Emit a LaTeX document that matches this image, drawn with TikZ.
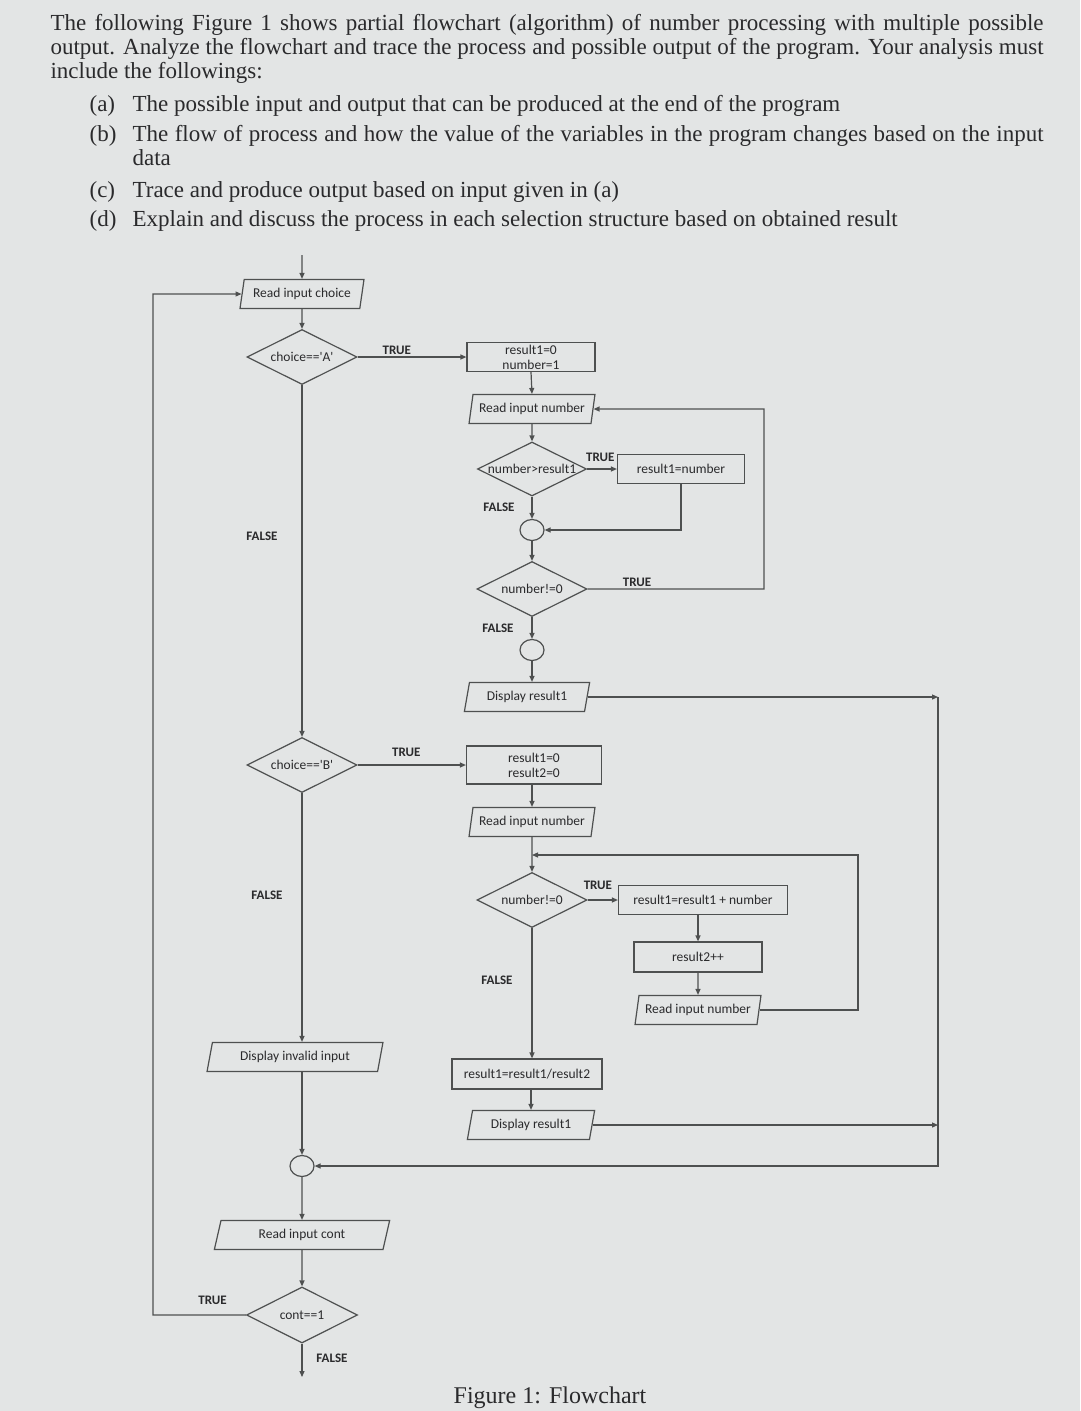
\documentclass[tikz,border=0pt]{standalone}
\usepackage{fontspec}
\setmainfont{Liberation Serif}
\newfontfamily\chartfont{Carlito}
\usetikzlibrary{arrows.meta,shapes.geometric}

\definecolor{paper}{HTML}{E3E5E5}
\definecolor{ink}{HTML}{4E5050}
\definecolor{textc}{HTML}{2A2A2C}

\newcommand{\headfont}{\fontsize{23}{26}\selectfont}
\newcommand{\condtext}[1]{\makebox[0pt]{#1}}

\begin{document}
\begin{tikzpicture}[
    x=1pt, y=-1pt,
    >={Triangle[length=6pt,width=5pt]},
    line width=1.2pt,
    draw=ink,
    text=textc,
    font=\chartfont\fontsize{13.5}{15}\selectfont,
    proc/.style={draw=ink, rectangle, minimum height=29pt, inner sep=1pt, align=center},
    io/.style={draw=ink, trapezium, trapezium left angle=75, trapezium right angle=105,
        trapezium stretches=true, minimum height=29pt, inner sep=1pt},
    decide/.style={draw=ink, diamond, aspect=2, minimum width=110pt, minimum height=55pt, inner sep=0pt},
    joint/.style={draw=ink, ellipse, minimum width=24pt, minimum height=21pt, inner sep=0pt},
    lbl/.style={font=\chartfont\bfseries\fontsize{13}{15}\selectfont},
    head/.style={anchor=base west, inner sep=0pt, font=\headfont}
]

    % Page
    \fill[paper] (0,0) rectangle (1080,1411);
    \useasboundingbox (0,0) rectangle (1080,1411);

    % Question text
    \node[head] (intro1) at (50,30) {\makebox[993pt][s]{The following Figure 1 shows partial flowchart (algorithm) of number processing with multiple possible}};
    \node[head] (intro2) at (50,54) {\makebox[993pt][s]{output. Analyze the flowchart and trace the process and possible output of the program. Your analysis must}};
    \node[head] (intro3) at (50,78) {include the followings:};
    \node[head] (tagA) at (89,111) {(a)};
    \node[head] (itemA) at (132,111) {The possible input and output that can be produced at the end of the program};
    \node[head] (tagB) at (89,141) {(b)};
    \node[head] (itemB) at (132,141) {\makebox[911pt][s]{The flow of process and how the value of the variables in the program changes based on the input}};
    \node[head] (itemB2) at (132,165) {data};
    \node[head] (tagC) at (89,197) {(c)};
    \node[head] (itemC) at (132,197) {Trace and produce output based on input given in (a)};
    \node[head] (tagD) at (89,226) {(d)};
    \node[head] (itemD) at (132,226) {Explain and discuss the process in each selection structure based on obtained result};

    % Main column
    \coordinate (start) at (302,255);
    \node[io, minimum width=124pt] (rdchoice) at (302,294) {Read input choice};
    \node[decide] (chkA) at (302,357) {\condtext{choice=='A'}};
    \node[decide] (chkB) at (302,765) {\condtext{choice=='B'}};
    \node[io, minimum width=176pt] (dispinv) at (295,1057) {Display invalid input};
    \node[joint] (joinM) at (302,1166) {};
    \node[io, minimum width=176pt] (rdcont) at (302,1235) {Read input cont};
    \node[decide, minimum width=111pt, minimum height=56pt] (chkcont) at (302,1315) {\condtext{cont==1}};
    \coordinate (stop) at (302,1377);

    % Choice A: largest number
    \node[proc, minimum width=128pt] (initA) at (531,357) {result1=0\\number=1};
    \node[io, minimum width=126pt] (rdnumA) at (532,409) {Read input number};
    \node[decide, minimum width=109pt, minimum height=54pt] (cmpA) at (532,469) {\condtext{number>result1}};
    \node[proc, minimum width=127pt] (setA) at (681,469) {result1=number};
    \node[joint] (joinA) at (532,530) {};
    \node[decide] (chkzA) at (532,589) {\condtext{number!=0}};
    \node[joint] (joinA2) at (532,650) {};
    \node[io, minimum width=126pt] (dispA) at (527,697) {Display result1};
    \coordinate (loopA) at (764,409);

    % Choice B: average
    \node[proc, minimum width=135pt, minimum height=38pt] (initB) at (534,765) {result1=0\\result2=0};
    \node[io, minimum width=126pt] (rdnumB) at (532,822) {Read input number};
    \node[decide] (chkzB) at (532,900) {\condtext{number!=0}};
    \node[proc, minimum width=169pt] (sumB) at (703,900) {result1=result1 + number};
    \node[proc, minimum width=128pt, minimum height=30pt] (incB) at (698,957) {result2++};
    \node[io, minimum width=126pt] (rdnumB2) at (698,1010) {Read input number};
    \node[proc, minimum width=150pt, minimum height=30pt] (avgB) at (527,1074) {result1=result1/result2};
    \node[io, minimum width=128pt] (dispB) at (531,1125) {Display result1};
    \coordinate (loopB) at (858,855);

    % Rails
    \coordinate (railT) at (938,697);
    \coordinate (railL) at (153,294);

    % Main flow
    \draw[->] (start) -- (rdchoice.north);
    \draw[->] (rdchoice.south) -- (chkA.north);
    \draw[->] (chkA.south) -- node[lbl, pos=0.43, xshift=-40pt] {FALSE} (chkB.north);
    \draw[->] (chkB.south) -- node[lbl, pos=0.41, xshift=-35pt] {FALSE} (chkB.south |- dispinv.north);
    \draw[->] (chkB.south |- dispinv.south) -- (joinM.north);
    \draw[->] (joinM.south) -- (rdcont.north);
    \draw[->] (rdcont.south) -- (chkcont.north);
    \draw[->] (chkcont.south) -- node[lbl, pos=0.45, xshift=30pt] {FALSE} (stop);
    \draw[->] (chkcont.west) -| node[lbl, pos=0.18, yshift=15pt] {TRUE} (railL) -- (rdchoice.west);

    % Branch A
    \draw[->] (chkA.east) -- node[lbl, pos=0.36, yshift=7pt] {TRUE} (initA.west);
    \draw[->] (initA.south) -- (rdnumA.north);
    \draw[->] (rdnumA.south) -- (cmpA.north);
    \draw[->] (cmpA.east) -- node[lbl, pos=0.44, yshift=12pt] {TRUE} (setA.west);
    \draw[->] (cmpA.south) -- node[lbl, pos=0.5, xshift=-33pt] {FALSE} (joinA.north);
    \draw[->] (setA.south) |- (joinA.east);
    \draw[->] (joinA.south) -- (chkzA.north);
    \draw[->] (chkzA.east) -| node[lbl, pos=0.14, yshift=7pt] {TRUE} (loopA) -- (rdnumA.east);
    \draw[->] (chkzA.south) -- node[lbl, pos=0.5, xshift=-34pt] {FALSE} (joinA2.north);
    \draw[->] (joinA2.south) -- (joinA2.south |- dispA.north);
    \draw[->] (dispA.east) -- (dispA.east -| railT);

    % Branch B
    \draw[->] (chkB.east) -- node[lbl, pos=0.45, yshift=13pt] {TRUE} (initB.west);
    \draw[->] (rdnumB.north |- initB.south) -- (rdnumB.north);
    \draw[->] (rdnumB.south) -- (chkzB.north);
    \draw[->] (chkzB.east) -- node[lbl, pos=0.34, yshift=15pt] {TRUE} (sumB.west);
    \draw[->] (incB.north |- sumB.south) -- (incB.north);
    \draw[->] (incB.south) -- (rdnumB2.north);
    \draw[->] (rdnumB2.east) -| (loopB) -- (loopB -| chkzB.north);
    \draw[->] (chkzB.south) -- node[lbl, pos=0.4, xshift=-35pt] {FALSE} (chkzB.south |- avgB.north);
    \draw[->] (dispB.north |- avgB.south) -- (dispB.north);
    \draw[->] (dispB.east) -- (dispB.east -| railT);

    % Return to the join before cont
    \draw[->] (railT) |- (joinM.east);

    % Caption
    \node[font=\fontsize{24}{28}\selectfont] (caption) at (550,1398) {Figure 1: Flowchart};

\end{tikzpicture}
\end{document}
